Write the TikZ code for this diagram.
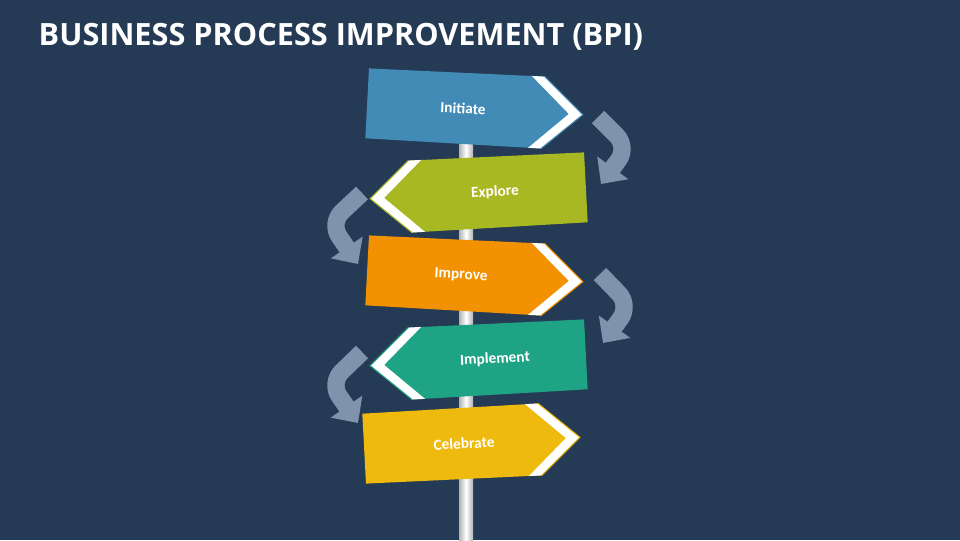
\documentclass[tikz,border=0pt]{standalone}
\usepackage{fontspec}
\setmainfont{Carlito}
\newfontfamily\titlefont{Open Sans}
\usetikzlibrary{arrows.meta}
\definecolor{bg}{HTML}{253A54}
\definecolor{cA}{HTML}{428BB6}
\definecolor{cB}{HTML}{A8B823}
\definecolor{cC}{HTML}{F39200}
\definecolor{cD}{HTML}{1FA385}
\definecolor{cE}{HTML}{EEBA0E}
\definecolor{arr}{HTML}{7F93AD}
\tikzset{
  signtext/.style={text=white, font=\bfseries\fontsize{11.5}{13}\selectfont},
  bentarrow/.style={draw=arr, line width=13pt, -{Triangle[width=28pt,length=15pt]}},
}
% #1 colour, #2 direction (1 right, -1 left)
\newcommand{\signshape}[2]{%
  \fill[#1] (-108*#2,-35) -- (68*#2,-36) -- (108*#2,0) -- (68*#2,36) -- (-108*#2,35) -- cycle;
  \fill[white] (55*#2,-36) -- (68*#2,-36) -- (108*#2,0) -- (68*#2,36) -- (55*#2,36) -- (94*#2,0) -- cycle;
  \draw[#1, line width=0.8pt] (68*#2,-36) -- (108*#2,0) -- (68*#2,36);
}
\begin{document}
\begin{tikzpicture}[x=0.75pt,y=-0.75pt]
\fill[bg] (0,0) rectangle (960,540);
\useasboundingbox (0,0) rectangle (960,540);
\node[anchor=west, text=white, font=\titlefont\bfseries\fontsize{23}{27}\selectfont] (title) at (34,37) {BUSINESS PROCESS IMPROVEMENT (BPI)};
% pole
\shade[left color=gray!60, right color=gray!60, middle color=white] (459,140) rectangle (473,540);
% signs
\begin{scope}[shift={(475,109)}, rotate=-3] \signshape{cA}{1} \node[signtext, rotate=-3] (s1) at (-12,0) {Initiate}; \end{scope}
\begin{scope}[shift={(478,193)}, rotate=3] \signshape{cB}{-1} \node[signtext, rotate=3] (s2) at (17,0) {Explore}; \end{scope}
\begin{scope}[shift={(475,276)}, rotate=-3] \signshape{cC}{1} \node[signtext, rotate=-3] (s3) at (-14,0) {Improve}; \end{scope}
\begin{scope}[shift={(478,360)}, rotate=3] \signshape{cD}{-1} \node[signtext, rotate=3] (s4) at (17,0) {Implement}; \end{scope}
\begin{scope}[shift={(472,443)}, rotate=3] \signshape{cE}{1} \node[signtext, rotate=3] (s5) at (-8,0) {Celebrate}; \end{scope}
% bent arrows
\coordinate (a1s) at (598,117); \coordinate (a1m) at (628,147); \coordinate (a1e) at (601,184);
\coordinate (a2s) at (362,193); \coordinate (a2m) at (330,223); \coordinate (a2e) at (358,264);
\coordinate (a3s) at (600,274); \coordinate (a3m) at (630,305); \coordinate (a3e) at (603,343);
\coordinate (a4s) at (362,352); \coordinate (a4m) at (330,383); \coordinate (a4e) at (358,423);
\draw[bentarrow, rounded corners=12pt] (a1s) -- (a1m) -- (a1e);
\draw[bentarrow, rounded corners=12pt] (a2s) -- (a2m) -- (a2e);
\draw[bentarrow, rounded corners=12pt] (a3s) -- (a3m) -- (a3e);
\draw[bentarrow, rounded corners=12pt] (a4s) -- (a4m) -- (a4e);
\end{tikzpicture}
\end{document}
